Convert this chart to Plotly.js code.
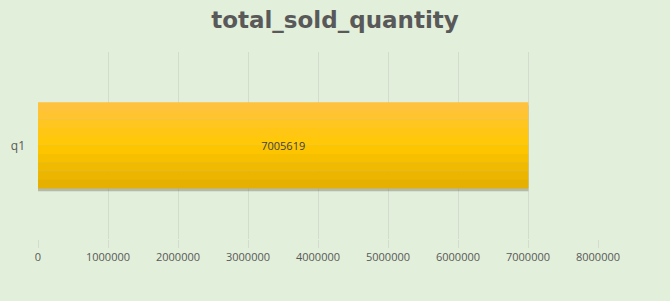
<!DOCTYPE html>
<html>
<head>
<meta charset="utf-8">
<script src="https://cdn.plot.ly/plotly-3.0.1.min.js"></script>
<style>html,body{margin:0;padding:0;background:#E2EFDA;}#chart{width:670px;height:301px;}</style>
</head>
<body>
<div id="chart"></div>
<script>
const categories = ['q1'];
const totalSoldQuantity = [7005619];
const tickValues = [0, 1000000, 2000000, 3000000, 4000000, 5000000, 6000000, 7000000, 8000000];
const tickLabels = ['0', '1000000', '2000000', '3000000', '4000000', '5000000', '6000000', '7000000', '8000000'];

// gradient bands (top -> bottom) to mimic the bar fill gradient
const bandColors = ['#FFC23C','#FFC42F','#FFC622','#FFC714','#FFC808','#FCC500','#F6C000','#F0BA00','#EBB500','#E6B000'];
const barWidth = 0.46;
const n = bandColors.length;
const bandW = barWidth / n;
const traces = [];
// soft shadow
traces.push({
  type: 'bar', orientation: 'h', y: categories, x: totalSoldQuantity,
  width: barWidth, offset: -barWidth/2 - 0.015,
  marker: {color: 'rgba(90,90,90,0.35)', line: {width: 0}},
  hoverinfo: 'skip', showlegend: false
});
bandColors.forEach((c, i) => {
  traces.push({
    type: 'bar', orientation: 'h', y: categories, x: totalSoldQuantity,
    width: bandW * 1.02, offset: barWidth/2 - (i + 1) * bandW,
    marker: {color: c, line: {width: 0}},
    hoverinfo: 'skip', showlegend: false
  });
});
traces.push({
  type: 'bar', orientation: 'h', y: categories, x: totalSoldQuantity,
  width: barWidth, offset: -barWidth/2,
  marker: {color: 'rgba(0,0,0,0)', line: {width: 0}},
  text: totalSoldQuantity.map(String), textposition: 'inside', insidetextanchor: 'middle',
  constraintext: 'none',
  textfont: {family: 'Open Sans, Liberation Sans, sans-serif', size: 11, color: '#404040'},
  showlegend: false
});

const layout = {
  width: 670, height: 301,
  paper_bgcolor: '#E2EFDA', plot_bgcolor: '#E2EFDA',
  barmode: 'overlay',
  margin: {l: 38, r: 72, t: 52, b: 62},
  title: {text: 'total_sold_quantity', x: 0.5, xanchor: 'center', y: 0.935, yanchor: 'middle',
    font: {family: 'DejaVu Sans, sans-serif', size: 23, color: '#595959', weight: 'bold'}},
  xaxis: {range: [0, 8000000], tickvals: tickValues, ticktext: tickLabels,
    showgrid: true, gridcolor: '#D3DCCD', gridwidth: 1, zeroline: false,
    showline: false, ticks: 'outside', ticklen: 8, tickcolor: '#D3DCCD',
    tickfont: {family: 'Open Sans, Liberation Sans, sans-serif', size: 11, color: '#595959'},
    fixedrange: true},
  yaxis: {showgrid: false, zeroline: false, showline: false, ticks: '',
    ticklabelstandoff: 12,
    tickfont: {family: 'Open Sans, Liberation Sans, sans-serif', size: 12, color: '#595959'},
    fixedrange: true},
  showlegend: false
};
Plotly.newPlot('chart', traces, layout, {displayModeBar: false, staticPlot: true});
</script>
</body>
</html>
